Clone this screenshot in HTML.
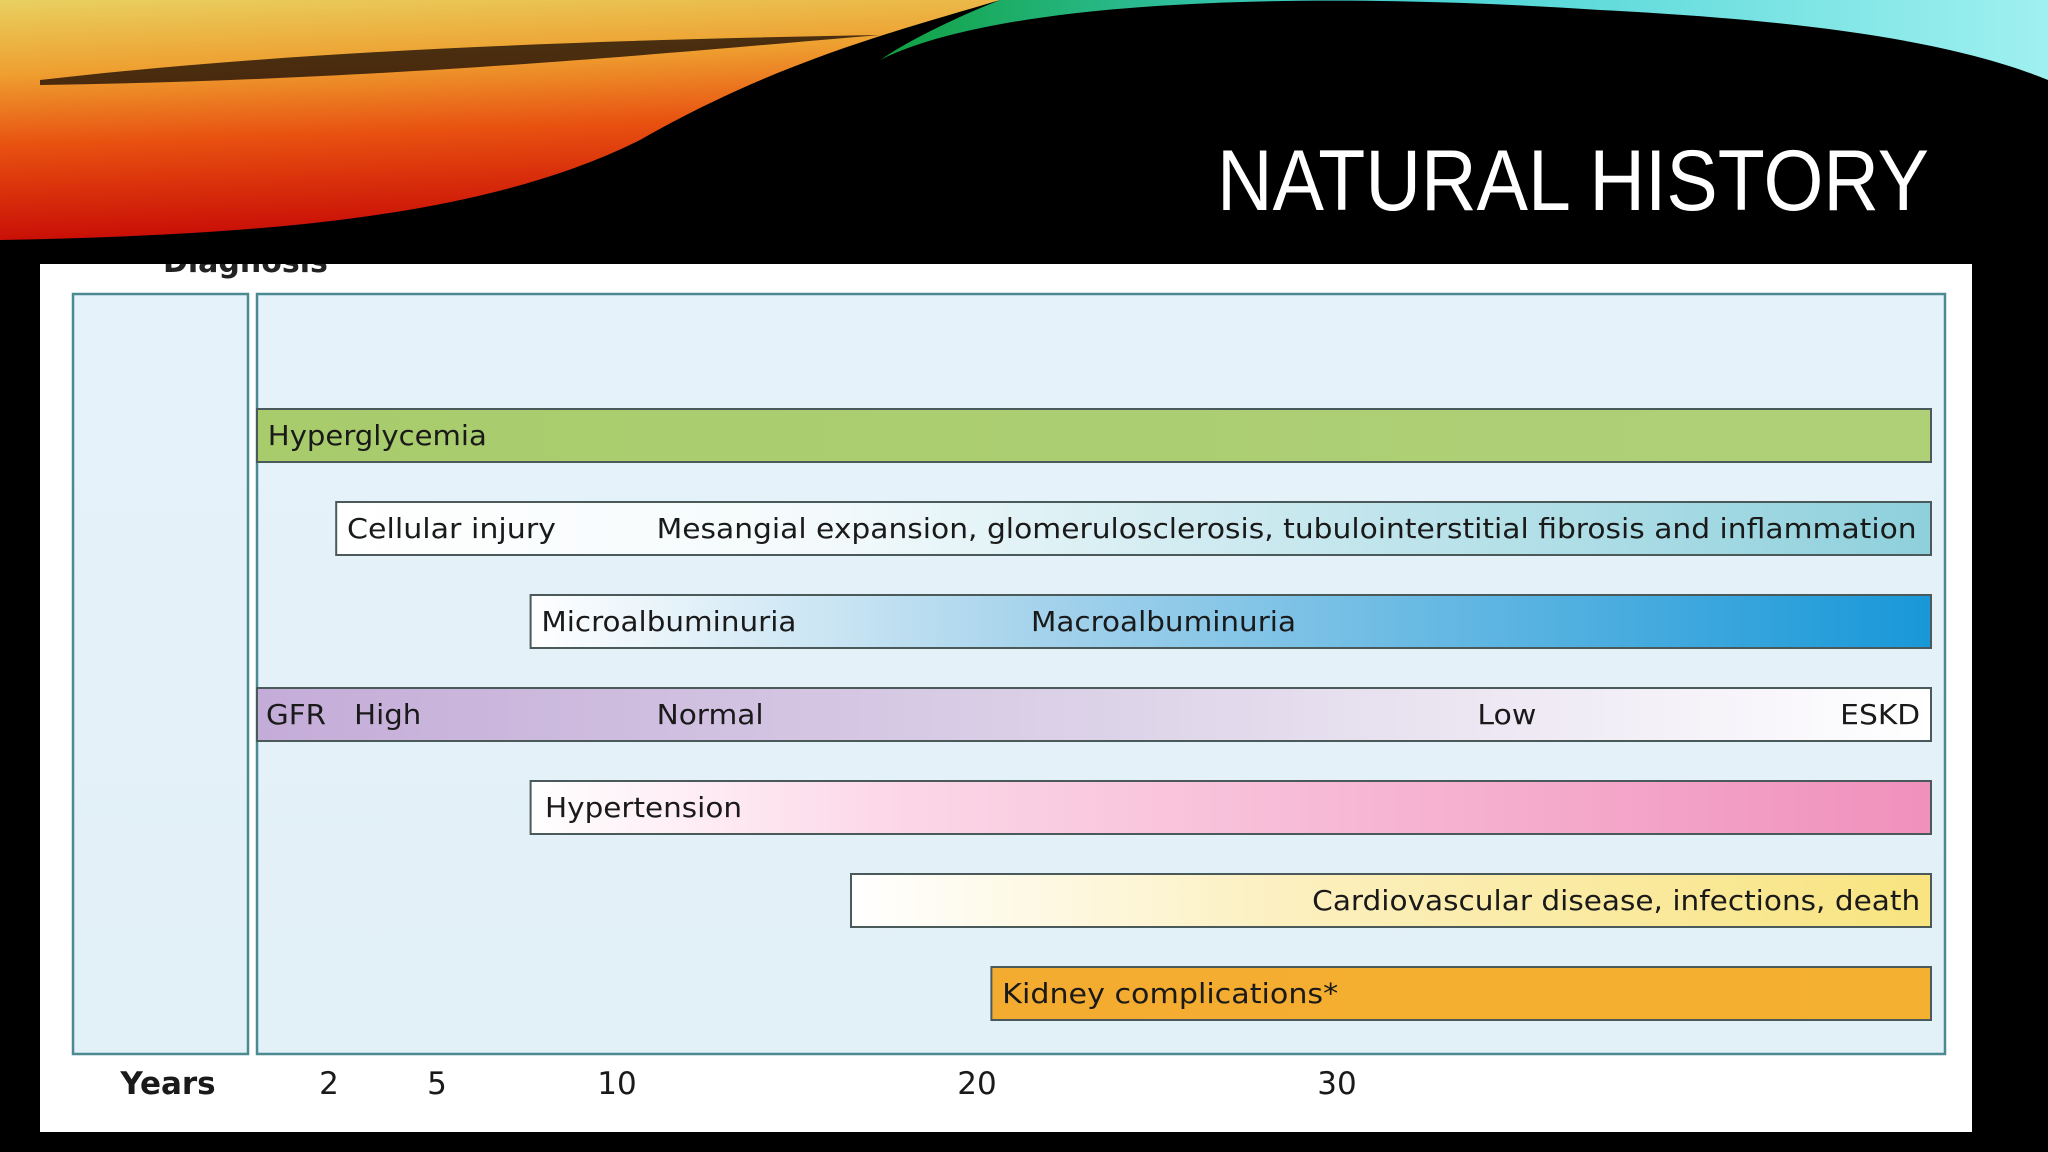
<!DOCTYPE html>
<html><head><meta charset="utf-8"><style>
html,body{margin:0;padding:0;background:#000;width:2048px;height:1152px;overflow:hidden}
svg{display:block}
text{font-family:"DejaVu Sans","Liberation Sans",sans-serif}
</style></head><body>
<svg id="chart" width="2048" height="1152" viewBox="0 0 2048 1152" xmlns="http://www.w3.org/2000/svg">
<defs>
<linearGradient id="warm" x1="0" y1="0" x2="0.15" y2="1">
<stop offset="0" stop-color="#e8d060"/><stop offset="0.3" stop-color="#eea030"/><stop offset="0.6" stop-color="#e85010"/><stop offset="1" stop-color="#c80c06"/></linearGradient>
<linearGradient id="cool" x1="0" y1="0" x2="1" y2="0">
<stop offset="0" stop-color="#10a040"/><stop offset="0.4" stop-color="#40d0d0"/><stop offset="1" stop-color="#a0f0f0"/></linearGradient>
<linearGradient id="bg" x1="0" y1="0" x2="0" y2="1"><stop offset="0" stop-color="#e6f2fa"/><stop offset="1" stop-color="#e2f0f8"/></linearGradient>
<linearGradient id="g-hyper" x1="0" x2="1"><stop offset="0" stop-color="#a8cc6c"/><stop offset="1" stop-color="#b0d078"/></linearGradient>
<linearGradient id="g-cell" x1="0" x2="1"><stop offset="0" stop-color="#ffffff"/><stop offset="0.3" stop-color="#f4fafc"/><stop offset="1" stop-color="#8ed0dc"/></linearGradient>
<linearGradient id="g-micro" x1="0" x2="1"><stop offset="0" stop-color="#ffffff"/><stop offset="0.35" stop-color="#a8d4ec"/><stop offset="1" stop-color="#1898d8"/></linearGradient>
<linearGradient id="g-gfr" x1="0" x2="1"><stop offset="0" stop-color="#c4acd8"/><stop offset="0.5" stop-color="#dcd2e8"/><stop offset="1" stop-color="#ffffff"/></linearGradient>
<linearGradient id="g-htn" x1="0" x2="1"><stop offset="0" stop-color="#ffffff"/><stop offset="0.25" stop-color="#fcd8e8"/><stop offset="1" stop-color="#f090bc"/></linearGradient>
<linearGradient id="g-cvd" x1="0" x2="1"><stop offset="0" stop-color="#ffffff"/><stop offset="0.4" stop-color="#fcf0c0"/><stop offset="1" stop-color="#f8e480"/></linearGradient>
<linearGradient id="g-kid" x1="0" x2="1"><stop offset="0" stop-color="#f4ac30"/><stop offset="1" stop-color="#f4b030"/></linearGradient>
</defs>
<rect x="0" y="0" width="2048" height="1152" fill="#000"/>
<path d="M0 0 L1000 0 C900 30 780 60 640 140 C480 220 250 235 0 240 Z" fill="url(#warm)"/>
<path d="M40 80 C300 50 600 40 880 35 C700 50 400 80 40 85 Z" fill="#201008" opacity="0.8"/>
<path d="M880 60 C1000 0 1300 -10 1600 10 C1800 20 1950 40 2048 80 L2048 0 L1000 0 C950 20 910 40 880 60 Z" fill="url(#cool)"/>
<path d="M900 80 C1100 20 1450 10 1700 30 C1850 40 1980 60 2048 90 L2048 100 C1900 60 1500 40 1200 60 C1050 70 950 80 900 80 Z" fill="#000"/>
<text x="1929" y="210" font-size="86" fill="#fff" text-anchor="end" textLength="712" lengthAdjust="spacingAndGlyphs" style="font-family:'Liberation Sans',sans-serif">NATURAL HISTORY</text>
<rect x="40" y="264" width="1932" height="868" fill="#fff"/>
<text x="163" y="272" font-size="30" font-weight="bold" fill="#222">Diagnosis</text>
<rect x="0" y="240" width="2048" height="24" fill="#000"/>
<rect x="73" y="294" width="175" height="760" fill="url(#bg)" stroke="#4a8a90" stroke-width="2.5"/>
<rect x="257" y="294" width="1688" height="760" fill="url(#bg)" stroke="#4a8a90" stroke-width="2.5"/>
<g id="bars"></g>
<g id="ticks"></g>
</svg>
<script>
const barNames = ["hyperglycemia","cellular-injury","albuminuria","gfr","hypertension","cardiovascular","kidney-complications"];
const barStart = [0, 2.2, 7.6, 0, 7.6, 16.5, 20.4];
const barEnd = [46.5, 46.5, 46.5, 46.5, 46.5, 46.5, 46.5];
const barFill = ["url(#g-hyper)","url(#g-cell)","url(#g-micro)","url(#g-gfr)","url(#g-htn)","url(#g-cvd)","url(#g-kid)"];
const barLabels = [
  [["Hyperglycemia",0.3,"start",219]],
  [["Cellular injury",2.5,"start",209],["Mesangial expansion, glomerulosclerosis, tubulointerstitial fibrosis and inflammation",11.1,"start",1260]],
  [["Microalbuminuria",7.9,"start",255],["Macroalbuminuria",21.5,"start",265]],
  [["GFR",0.25,"start",60],["High",2.7,"start",67],["Normal",11.1,"start",107],["Low",33.9,"start",59],["ESKD",46.2,"end",80]],
  [["Hypertension",8.0,"start",197]],
  [["Cardiovascular disease, infections, death",46.2,"end",608]],
  [["Kidney complications*",20.7,"start",336]]
];
const tickYears = [2,5,10,20,30];
const tickLabels = ["2","5","10","20","30"];
const NS="http://www.w3.org/2000/svg";
function xScale(y){return 257 + 36.0*y;}
function rowY(i){return 409 + i*93;}
const barH = 53;
const gb=document.getElementById('bars');
barNames.forEach((n,i)=>{
  const r=document.createElementNS(NS,'rect');
  
  
  r.setAttribute('x',xScale(barStart[i]));r.setAttribute('y',rowY(i));
  r.setAttribute('width',xScale(barEnd[i])-xScale(barStart[i]));r.setAttribute('height',barH);
  r.setAttribute('fill',barFill[i]);r.setAttribute('stroke','#4a5a5a');r.setAttribute('stroke-width','2');
  gb.appendChild(r);
  barLabels[i].forEach(l=>{
    const t=document.createElementNS(NS,'text');
    
    
    t.setAttribute('x',xScale(l[1]));t.setAttribute('y',rowY(i)+36);
    t.setAttribute('font-size','28');t.setAttribute('fill','#1a1a1a');
    t.setAttribute('text-anchor',l[2]);
    if(l[3]){t.setAttribute('textLength',l[3]);t.setAttribute('lengthAdjust','spacingAndGlyphs');}
    t.textContent=l[0];gb.appendChild(t);
  });
});
const gt=document.getElementById('ticks');
const yl=document.createElementNS(NS,'text');


yl.setAttribute('x',168);yl.setAttribute('y',1094);yl.setAttribute('font-size','31');yl.setAttribute('font-weight','bold');
yl.setAttribute('text-anchor','middle');yl.setAttribute('fill','#1a1a1a');yl.textContent='Years';gt.appendChild(yl);
tickYears.forEach((v,i)=>{
  const t=document.createElementNS(NS,'text');
  
  
  t.setAttribute('x',xScale(v));t.setAttribute('y',1094);t.setAttribute('font-size','31');
  t.setAttribute('text-anchor','middle');t.setAttribute('fill','#1a1a1a');t.textContent=tickLabels[i];gt.appendChild(t);
});
</script>
</body></html>
